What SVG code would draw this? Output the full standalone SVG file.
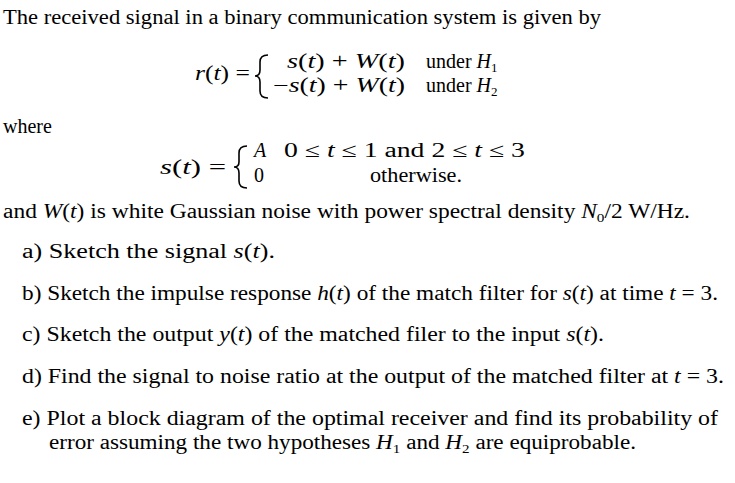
<svg xmlns="http://www.w3.org/2000/svg" width="735" height="483" viewBox="0 0 735 483">
<style>
text{font-family:"Liberation Serif","DejaVu Serif",serif;font-size:20px;fill:#000}
.i{font-style:italic}
.s{font-size:13px}
.b{fill:none;stroke:#000;stroke-width:1.6}
</style>
<rect width="735" height="483" fill="#fff"/>
<text x="3" y="24" textLength="598" lengthAdjust="spacingAndGlyphs">The received signal in a binary communication system is given by</text>
<text x="195" y="80" textLength="55" lengthAdjust="spacingAndGlyphs"><tspan class="i">r</tspan>(<tspan class="i">t</tspan>) =</text>
<path class="b" d="M268,55 Q260,55 260,62 L260,70 Q260,76 255,76 Q260,76 260,82 L260,91 Q260,98 268,98"/>
<text x="287" y="68" textLength="118" lengthAdjust="spacingAndGlyphs"><tspan class="i">s</tspan>(<tspan class="i">t</tspan>) + <tspan class="i">W</tspan>(<tspan class="i">t</tspan>)</text>
<text x="426" y="68">under <tspan class="i">H</tspan><tspan class="s" dy="4">1</tspan></text>
<text x="273" y="92" textLength="132" lengthAdjust="spacingAndGlyphs">−<tspan class="i">s</tspan>(<tspan class="i">t</tspan>) + <tspan class="i">W</tspan>(<tspan class="i">t</tspan>)</text>
<text x="426" y="92">under <tspan class="i">H</tspan><tspan class="s" dy="4">2</tspan></text>
<text x="3" y="133">where</text>
<text x="160" y="174" textLength="66" lengthAdjust="spacingAndGlyphs"><tspan class="i">s</tspan>(<tspan class="i">t</tspan>) =</text>
<path class="b" d="M247,146 Q239,146 239,153 L239,162 Q239,167 234,167 Q239,167 239,173 L239,181 Q239,188 247,188"/>
<text x="254" y="157" class="i">A</text>
<text x="284" y="157" textLength="241" lengthAdjust="spacingAndGlyphs">0 ≤ <tspan class="i">t</tspan> ≤ 1 and 2 ≤ <tspan class="i">t</tspan> ≤ 3</text>
<text x="254" y="182">0</text>
<text x="370" y="182" textLength="92" lengthAdjust="spacingAndGlyphs">otherwise.</text>
<text x="3" y="218" textLength="687" lengthAdjust="spacingAndGlyphs">and <tspan class="i">W</tspan>(<tspan class="i">t</tspan>) is white Gaussian noise with power spectral density <tspan class="i">N</tspan><tspan class="s" dy="4">0</tspan><tspan dy="-4">/2 W/Hz.</tspan></text>
<text x="22" y="258" textLength="253" lengthAdjust="spacingAndGlyphs">a)  Sketch the signal <tspan class="i">s</tspan>(<tspan class="i">t</tspan>).</text>
<text x="22" y="300" textLength="696" lengthAdjust="spacingAndGlyphs">b)  Sketch the impulse response <tspan class="i">h</tspan>(<tspan class="i">t</tspan>) of the match filter for <tspan class="i">s</tspan>(<tspan class="i">t</tspan>) at time <tspan class="i">t</tspan> = 3.</text>
<text x="22" y="341" textLength="582" lengthAdjust="spacingAndGlyphs">c)  Sketch the output <tspan class="i">y</tspan>(<tspan class="i">t</tspan>) of the matched filer to the input <tspan class="i">s</tspan>(<tspan class="i">t</tspan>).</text>
<text x="22" y="383" textLength="702" lengthAdjust="spacingAndGlyphs">d)  Find the signal to noise ratio at the output of the matched filter at <tspan class="i">t</tspan> = 3.</text>
<text x="22" y="425" textLength="696" lengthAdjust="spacingAndGlyphs">e)  Plot a block diagram of the optimal receiver and find its probability of</text>
<text x="49" y="449" textLength="587" lengthAdjust="spacingAndGlyphs">error assuming the two hypotheses <tspan class="i">H</tspan><tspan class="s" dy="4">1</tspan><tspan dy="-4"> and </tspan><tspan class="i">H</tspan><tspan class="s" dy="4">2</tspan><tspan dy="-4"> are equiprobable.</tspan></text>
</svg>
